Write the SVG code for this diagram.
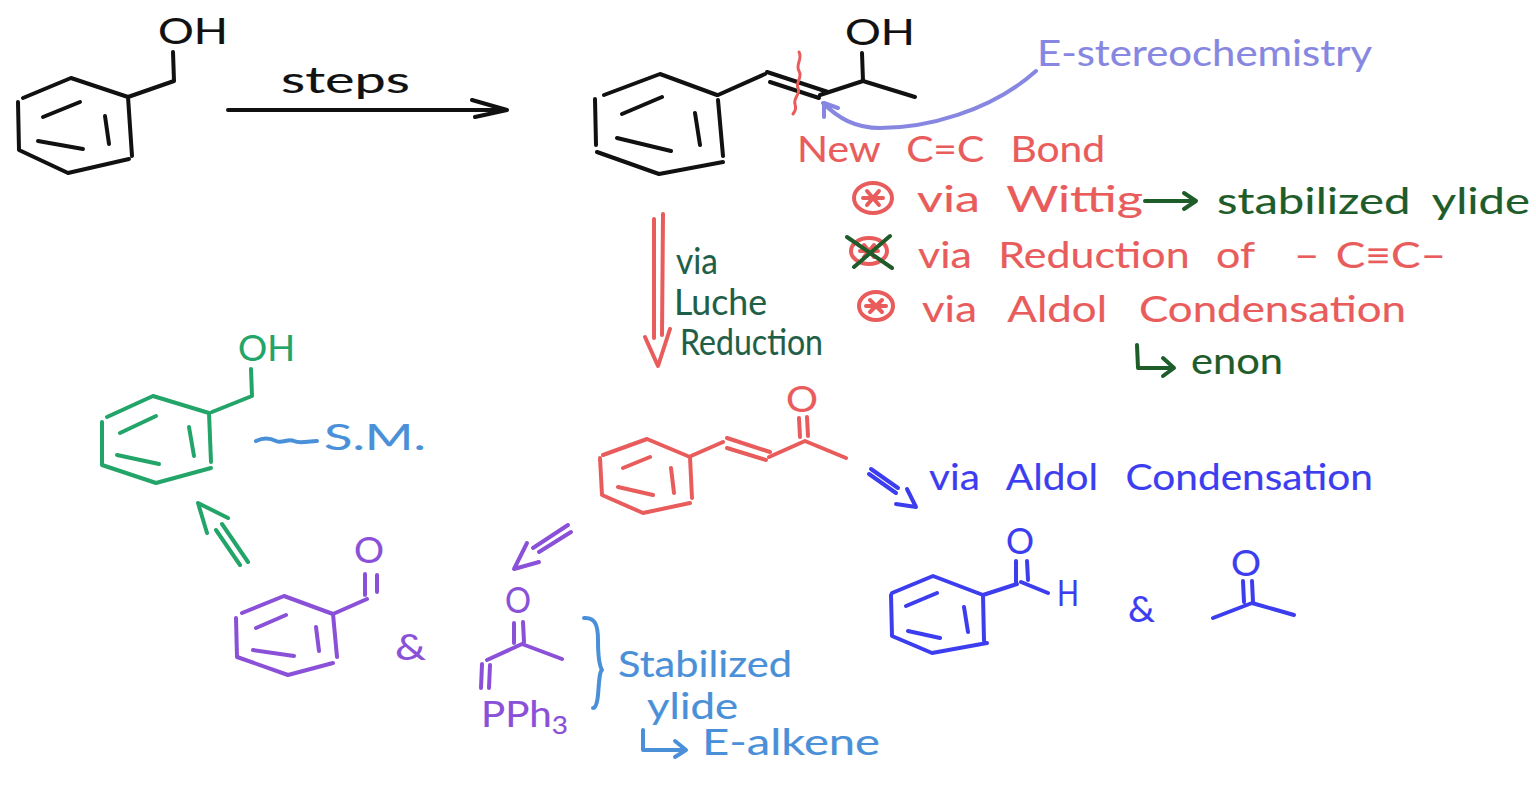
<svg xmlns="http://www.w3.org/2000/svg" width="1536" height="786" viewBox="0 0 1536 786">
<style>
path,ellipse{fill:none;stroke:currentColor;stroke-width:4;stroke-linecap:round;stroke-linejoin:round}
text{font-family:Lato,"Open Sans","Liberation Sans",sans-serif;fill:currentColor;stroke:currentColor;stroke-width:.15;font-size:36px}
.k{color:#111}.r{color:#e95c5c}.p{color:#8787e2}.g{color:#1e5c2a}.t{color:#1f5f47}.b{color:#3d3df0}.v{color:#8a50d8}.e{color:#23a469}.s{color:#4a90d9}
</style>
<rect width="1536" height="786" fill="#fff"/>
<g id="start-material" class="k">
<path d="M23,98L71,78L128,97L132,156M18,102L19,150L68,173L129,159M43,117L80,102M38,141L83,149M105,116L109,144M128,97L174,81L173,52"/>
<text x="158" y="44" textLength="70" lengthAdjust="spacingAndGlyphs" font-size="37">OH</text>
</g>
<g id="target" class="k">
<path d="M604,95L660,74L717,95M718,100L723,156M723,162L659,174L597,152M596,145L595,99M622,114L662,97M617,138L671,151M695,113L700,145M718,95L765,74M767,72L828,92M770,82L819,98M820,95L863,81L915,97M863,81L862,53"/>
<text x="845" y="45" textLength="70" lengthAdjust="spacingAndGlyphs" font-size="36">OH</text>
</g>
<g id="disconnection" class="r">
<path style="stroke-width:3" d="M799,52C803,60 795,64 799,71C803,78 795,82 798,88C801,94 793,98 795,104C796,108 796,110 793,114"/>
</g>
<g id="steps-label" class="k"><text x="281" y="93" textLength="129" lengthAdjust="spacingAndGlyphs" font-size="37">steps</text></g>
<g id="e-stereo" class="p"><text x="1037" y="66" textLength="335" lengthAdjust="spacingAndGlyphs" font-size="35">E-stereochemistry</text></g>
<g id="notes" class="r">
<text x="797" y="162" textLength="308" lengthAdjust="spacingAndGlyphs" word-spacing="14" font-size="36">New C=C Bond</text>
<ellipse cx="873" cy="198" rx="19" ry="15"/><path d="M863,198H883M867,191L879,205M879,191L867,205"/>
<text x="917" y="212" textLength="226" lengthAdjust="spacingAndGlyphs" word-spacing="10" font-size="36">via Wittig</text>
<ellipse cx="869" cy="251" rx="18" ry="13"/><path d="M860,251H878M864,245L874,257M874,245L864,257"/>
<text x="918" y="268" textLength="337" lengthAdjust="spacingAndGlyphs" word-spacing="13" font-size="36">via Reduction of</text>
<text x="1294" y="268" textLength="152" lengthAdjust="spacingAndGlyphs" word-spacing="4" font-size="36">– C≡C–</text>
<ellipse cx="876" cy="306" rx="17" ry="14"/><path d="M866,306H886M870,300L882,312M882,300L870,312"/>
<text x="922" y="322" textLength="484" lengthAdjust="spacingAndGlyphs" word-spacing="17" font-size="36">via Aldol Condensation</text>
</g>
<g id="notes-green" class="g">
<text x="1217" y="214" textLength="313" lengthAdjust="spacingAndGlyphs" word-spacing="8" font-size="36">stabilized ylide</text>
<text x="1191" y="374" textLength="92" lengthAdjust="spacingAndGlyphs" font-size="36">enon</text>
</g>
<g id="luche-label" class="t">
<text x="676" y="274" textLength="42" lengthAdjust="spacingAndGlyphs" font-size="26">via</text>
<text x="674" y="315" textLength="93" lengthAdjust="spacingAndGlyphs" font-size="28">Luche</text>
<text x="680" y="355" textLength="143" lengthAdjust="spacingAndGlyphs" font-size="28">Reduction</text>
</g>
<g id="enone" class="r">
<path d="M603,455L647,439L690,457L692,498M690,503L643,513L602,495L600,458M623,468L650,457M618,487L653,495M671,468L674,493M691,456L723,442M727,438L770,452M727,448L766,460M769,457L805,441L846,458M799,418L800,437M807,417L808,436"/>
<text x="786" y="412" textLength="32" lengthAdjust="spacingAndGlyphs" font-size="34">O</text>
</g>
<g id="aldol-label" class="b"><text x="929" y="490" textLength="444" lengthAdjust="spacingAndGlyphs" word-spacing="15" font-size="36">via Aldol Condensation</text></g>
<g id="benzaldehyde-blue" class="b">
<path d="M892,593L933,576L983,595L984,641M891,595L892,636L932,653L987,643M906,606L937,593M908,631L940,638M964,607L968,632M983,595L1017,584M1021,582L1048,593M1016,561V582M1027,561L1028,580"/>
<text x="1006" y="554" textLength="28" lengthAdjust="spacingAndGlyphs" font-size="30">O</text>
<text x="1057" y="606" textLength="22" lengthAdjust="spacingAndGlyphs" font-size="27">H</text>
</g>
<g id="amp-blue" class="b"><text x="1128" y="622" textLength="27" lengthAdjust="spacingAndGlyphs" font-size="38">&amp;</text></g>
<g id="acetone" class="b">
<path d="M1243,581L1244,602M1252,581L1253,602M1213,618L1252,603L1294,615"/>
<text x="1231" y="576" textLength="30" lengthAdjust="spacingAndGlyphs" font-size="35">O</text>
</g>
<g id="benzaldehyde-purple" class="v">
<path d="M242,613L284,596L333,614L337,657M333,663L288,675L237,657L236,618M256,628L286,615M253,650L294,656M316,627L319,651M333,614L367,599M365,595V574M377,592V575"/>
<text x="354" y="563" textLength="30" lengthAdjust="spacingAndGlyphs" font-size="31">O</text>
</g>
<g id="amp-purple" class="v"><text x="395" y="660" textLength="31" lengthAdjust="spacingAndGlyphs" font-size="40">&amp;</text></g>
<g id="ylide" class="v">
<path d="M514,623V643M523,622L524,642M487,660L522,644L562,659M482,664L481,688M490,665L489,688"/>
<text x="505" y="613" textLength="26" lengthAdjust="spacingAndGlyphs" font-size="28">O</text>
<text x="481" y="727" textLength="87" lengthAdjust="spacingAndGlyphs" font-size="35">PPh<tspan font-size="25" dy="7">3</tspan></text>
</g>
<g id="ylide-brace" class="s">
<path d="M584,618C595,617 598,625 598,640C598,655 599,665 602,670C599,672 599,685 598,695C597,705 595,708 593,708"/>
<text x="618" y="677" textLength="174" lengthAdjust="spacingAndGlyphs" font-size="27">Stabilized</text>
<text x="647" y="719" textLength="91" lengthAdjust="spacingAndGlyphs" font-size="27">ylide</text>
<text x="702" y="755" textLength="178" lengthAdjust="spacingAndGlyphs" font-size="34">E-alkene</text>
</g>
<g id="benzyl-alcohol" class="e">
<path d="M107,417L153,396L209,413L211,462M211,468L156,483L102,465L102,422M120,433L156,416M117,455L159,464M189,427L194,456M212,412L252,396L251,369"/>
<text x="238" y="361" textLength="57" lengthAdjust="spacingAndGlyphs" font-size="34">OH</text>
</g>
<g id="sm-label" class="s">
<path d="M256,441C264,437 270,438 276,441C282,444 288,438 294,441C300,444 308,441 317,441"/>
<text x="324" y="450" textLength="102" lengthAdjust="spacingAndGlyphs" font-size="38">S.M.</text>
</g>
<g id="connectors">
<path class="k" d="M228,110H507M472,100L507,110L475,117"/>
<path class="p" d="M1036,71C990,112 925,128 880,128C855,128 838,118 823,103M838,108L824,103L824,117"/>
<path class="g" d="M1145,201H1196M1184,193L1196,201L1184,209"/>
<path class="g" d="M847,237L892,268M890,236L854,267"/>
<path class="g" d="M1137,345L1138,368H1173M1163,358L1174,368L1163,376"/>
<path class="r" d="M654,219V338M663,214L662,335M645,337L658,366L670,329"/>
<path class="b" d="M869,474L896,493M871,469L898,488M907,489L916,507L896,504"/>
<path class="v" d="M568,525L533,548M571,532L539,552M527,543L514,569L539,562"/>
<path class="e" d="M216,530L240,565M222,524L248,562M207,533L198,503L228,518"/>
<path class="s" d="M643,730V750H685M675,741L686,750L675,757"/>
</g>
</svg>
